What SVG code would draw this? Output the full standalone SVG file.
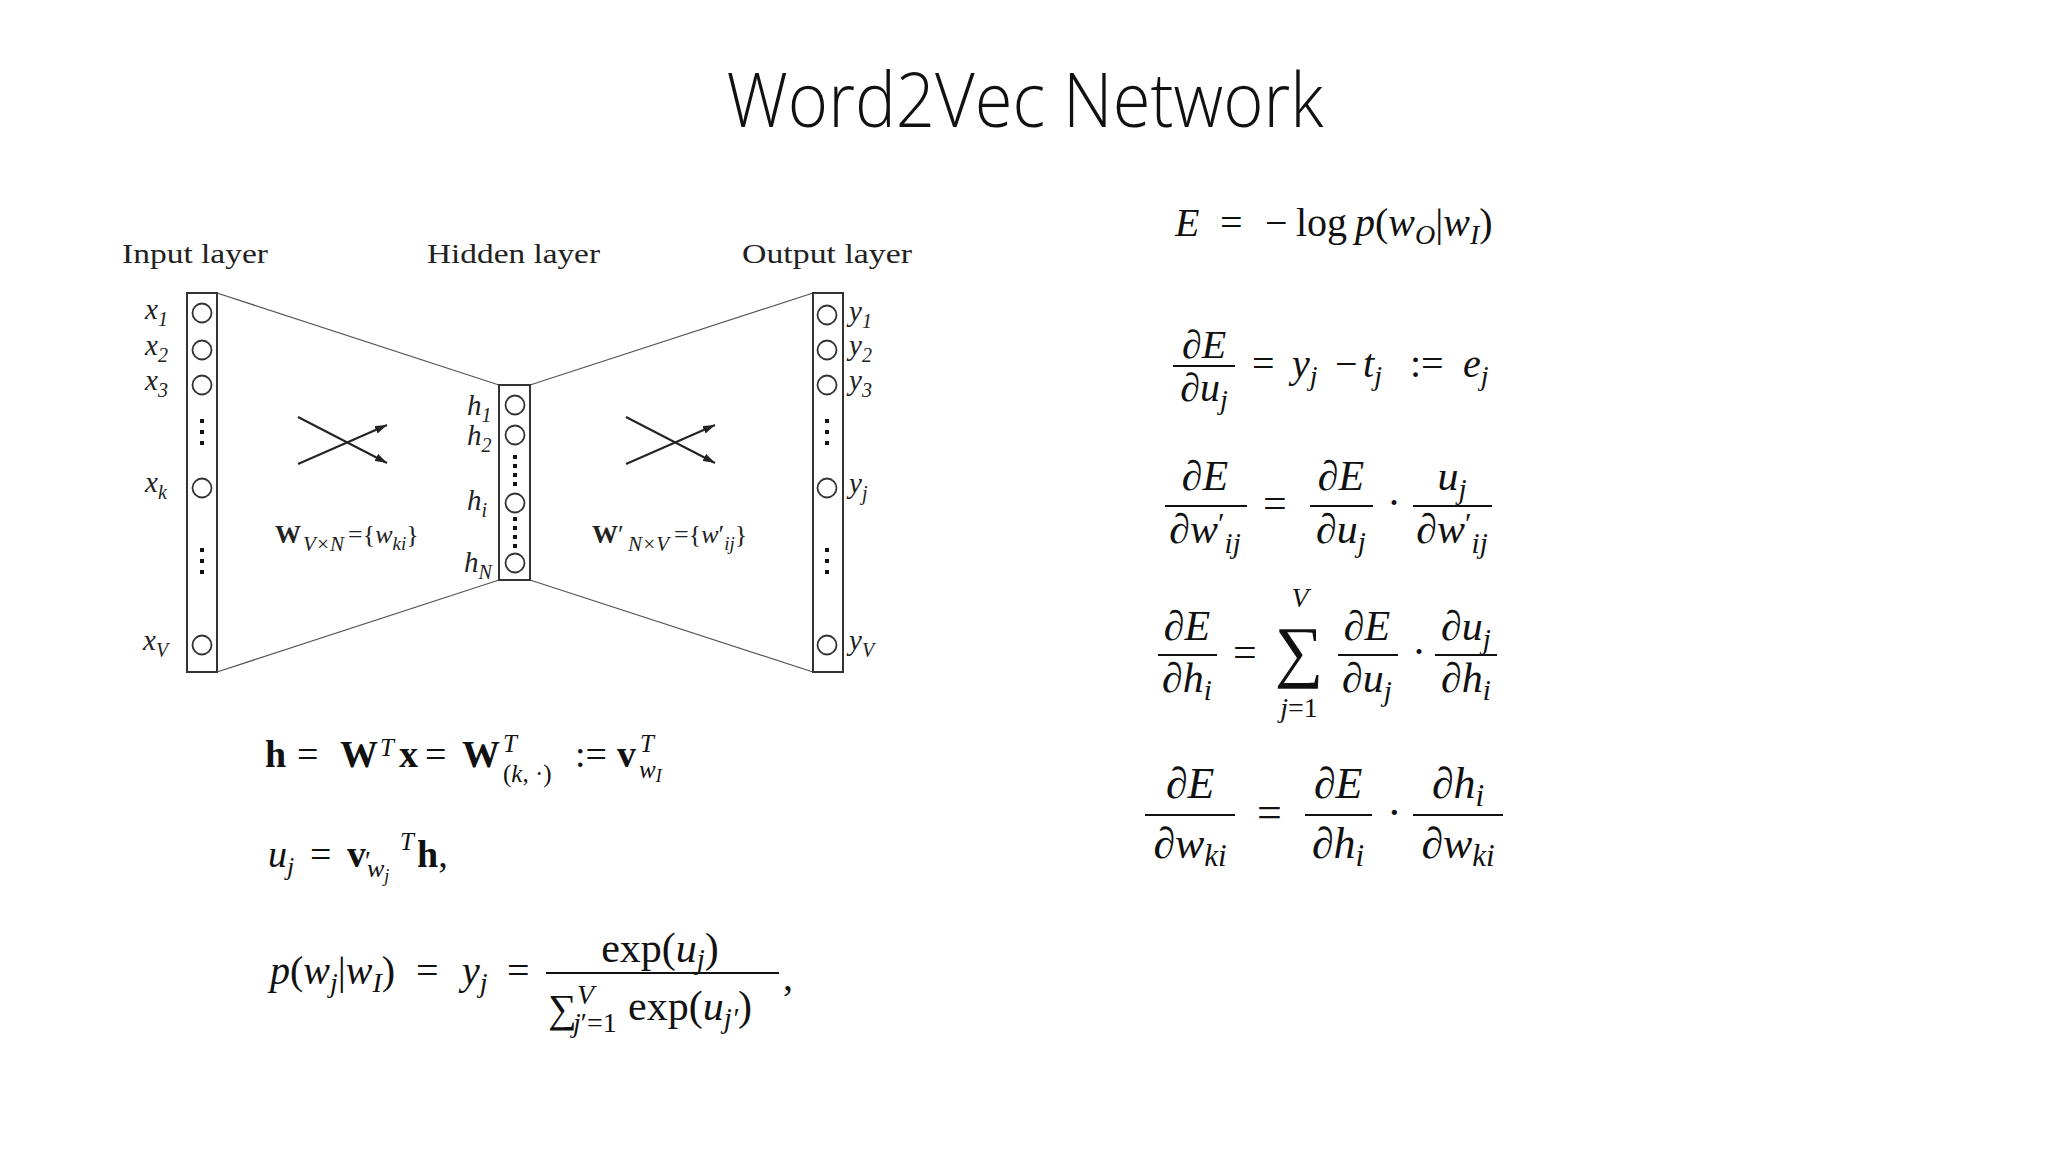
<svg xmlns="http://www.w3.org/2000/svg" width="2048" height="1152" viewBox="0 0 2048 1152">
<defs>
<style>
.t{font-family:"Open Sans","Liberation Sans",sans-serif;font-weight:300;fill:#111}
.s{font-family:"Liberation Serif","Times New Roman",serif;fill:#222}
.e{font-family:"Liberation Serif","Times New Roman",serif;fill:#111}
.i{font-style:italic}
.n{font-style:normal}
.box{fill:#fff;stroke:#333;stroke-width:2}
.node{fill:#fff;stroke:#333;stroke-width:1.8}
.edge{stroke:#555;stroke-width:1.3;fill:none}
.arr{stroke:#222;stroke-width:2;fill:none;marker-end:url(#ah)}
.bar{stroke:#111;stroke-width:1.8}
.dot{fill:#111}
</style>
<marker id="ah" viewBox="0 0 12 8" refX="12" refY="4" markerWidth="12" markerHeight="8" markerUnits="userSpaceOnUse" orient="auto"><path d="M0,0 L12,4 L0,8 z" fill="#222"/></marker>
</defs>
<rect width="2048" height="1152" fill="#fff"/>

<g id="title">
<text class="t" x="1025" y="127" font-size="76" text-anchor="middle" textLength="597" lengthAdjust="spacingAndGlyphs">Word2Vec Network</text>
</g>

<g id="connectors">
<line class="edge" x1="217" y1="293" x2="499" y2="385"/>
<line class="edge" x1="217" y1="672" x2="499" y2="580"/>
<line class="edge" x1="530" y1="385" x2="813" y2="293"/>
<line class="edge" x1="530" y1="580" x2="813" y2="672"/>
<line class="arr" x1="298" y1="417" x2="387" y2="463"/>
<line class="arr" x1="298" y1="464" x2="387" y2="425"/>
<line class="arr" x1="626" y1="417" x2="715" y2="463"/>
<line class="arr" x1="626" y1="464" x2="715" y2="425"/>
</g>

<g id="input-layer">
<text class="s" x="122" y="263" font-size="28" textLength="146" lengthAdjust="spacingAndGlyphs">Input layer</text>
<rect class="box" x="187" y="293" width="30" height="379"/>
<circle class="node" cx="202" cy="313" r="9.5"/>
<circle class="node" cx="202" cy="350" r="9.5"/>
<circle class="node" cx="202" cy="385" r="9.5"/>
<circle class="node" cx="202" cy="488" r="9.5"/>
<circle class="node" cx="202" cy="645" r="9.5"/>
<rect class="dot" x="200" y="419" width="4" height="4"/>
<rect class="dot" x="200" y="430" width="4" height="4"/>
<rect class="dot" x="200" y="441" width="4" height="4"/>
<rect class="dot" x="200" y="548" width="4" height="4"/>
<rect class="dot" x="200" y="559" width="4" height="4"/>
<rect class="dot" x="200" y="570" width="4" height="4"/>
<text class="s i" x="145" y="319" font-size="29">x<tspan font-size="20" dy="7">1</tspan></text>
<text class="s i" x="145" y="355" font-size="29">x<tspan font-size="20" dy="7">2</tspan></text>
<text class="s i" x="145" y="390" font-size="29">x<tspan font-size="20" dy="7">3</tspan></text>
<text class="s i" x="145" y="492" font-size="29">x<tspan font-size="20" dy="7">k</tspan></text>
<text class="s i" x="143" y="650" font-size="29">x<tspan font-size="20" dy="7">V</tspan></text>
<text class="s" font-size="26" y="543"><tspan x="275" font-weight="bold">W</tspan><tspan x="303" y="551" font-size="21" class="i">V×N</tspan><tspan x="348" y="543">={</tspan><tspan class="i">w</tspan><tspan font-size="19" dy="7" class="i">ki</tspan><tspan dy="-7">}</tspan></text>
</g>

<g id="hidden-layer">
<text class="s" x="427" y="263" font-size="28" textLength="173" lengthAdjust="spacingAndGlyphs">Hidden layer</text>
<rect class="box" x="499" y="385" width="31" height="195"/>
<circle class="node" cx="515" cy="405" r="9.5"/>
<circle class="node" cx="515" cy="435" r="9.5"/>
<circle class="node" cx="515" cy="503" r="9.5"/>
<circle class="node" cx="515" cy="563" r="9.5"/>
<rect class="dot" x="513" y="455" width="4" height="4"/>
<rect class="dot" x="513" y="464" width="4" height="4"/>
<rect class="dot" x="513" y="473" width="4" height="4"/>
<rect class="dot" x="513" y="482" width="4" height="4"/>
<rect class="dot" x="513" y="517" width="4" height="4"/>
<rect class="dot" x="513" y="526" width="4" height="4"/>
<rect class="dot" x="513" y="535" width="4" height="4"/>
<rect class="dot" x="513" y="544" width="4" height="4"/>
<text class="s i" x="467" y="415" font-size="29">h<tspan font-size="20" dy="7">1</tspan></text>
<text class="s i" x="467" y="445" font-size="29">h<tspan font-size="20" dy="7">2</tspan></text>
<text class="s i" x="467" y="510" font-size="29">h<tspan font-size="20" dy="7">i</tspan></text>
<text class="s i" x="464" y="572" font-size="29">h<tspan font-size="20" dy="7">N</tspan></text>
</g>

<g id="output-layer">
<text class="s" x="742" y="263" font-size="28" textLength="170" lengthAdjust="spacingAndGlyphs">Output layer</text>
<rect class="box" x="813" y="293" width="30" height="379"/>
<circle class="node" cx="827" cy="315" r="9.5"/>
<circle class="node" cx="827" cy="350" r="9.5"/>
<circle class="node" cx="827" cy="385" r="9.5"/>
<circle class="node" cx="827" cy="488" r="9.5"/>
<circle class="node" cx="827" cy="645" r="9.5"/>
<rect class="dot" x="825" y="419" width="4" height="4"/>
<rect class="dot" x="825" y="430" width="4" height="4"/>
<rect class="dot" x="825" y="441" width="4" height="4"/>
<rect class="dot" x="825" y="548" width="4" height="4"/>
<rect class="dot" x="825" y="559" width="4" height="4"/>
<rect class="dot" x="825" y="570" width="4" height="4"/>
<text class="s i" x="849" y="321" font-size="29">y<tspan font-size="20" dy="7">1</tspan></text>
<text class="s i" x="849" y="355" font-size="29">y<tspan font-size="20" dy="7">2</tspan></text>
<text class="s i" x="849" y="390" font-size="29">y<tspan font-size="20" dy="7">3</tspan></text>
<text class="s i" x="849" y="493" font-size="29">y<tspan font-size="20" dy="7">j</tspan></text>
<text class="s i" x="849" y="650" font-size="29">y<tspan font-size="20" dy="7">V</tspan></text>
<text class="s" font-size="26" y="543"><tspan x="592" font-weight="bold">W</tspan><tspan>′</tspan><tspan x="628" y="551" font-size="21" class="i">N×V</tspan><tspan x="674" y="543">={</tspan><tspan class="i">w</tspan><tspan>′</tspan><tspan font-size="19" dy="7" class="i">ij</tspan><tspan dy="-7">}</tspan></text>
</g>

<g id="equations-left">
<text class="e" font-size="38">
<tspan x="265" y="767" font-weight="bold">h</tspan>
<tspan x="297" y="767">=</tspan>
<tspan x="340" y="767" font-weight="bold">W</tspan>
<tspan x="380" y="756" font-size="25" class="i">T</tspan>
<tspan x="399" y="767" font-weight="bold">x</tspan>
<tspan x="425" y="767">=</tspan>
<tspan x="462" y="767" font-weight="bold">W</tspan>
<tspan x="503" y="752" font-size="25" class="i">T</tspan>
<tspan x="503" y="782" font-size="25">(<tspan class="i">k</tspan>, ·)</tspan>
<tspan x="575" y="767">:=</tspan>
<tspan x="617" y="767" font-weight="bold">v</tspan>
<tspan x="640" y="752" font-size="25" class="i">T</tspan>
<tspan x="639" y="778" font-size="25" class="i">w</tspan><tspan y="782" font-size="18" class="i">I</tspan>
</text>
<text class="e" font-size="38">
<tspan x="268" y="867" class="i">u</tspan><tspan y="875" font-size="26" class="i">j</tspan>
<tspan x="310" y="867">=</tspan>
<tspan x="347" y="867" font-weight="bold">v</tspan>
<tspan x="365" y="870" font-size="27">′</tspan>
<tspan x="367" y="877" font-size="26" class="i">w</tspan><tspan y="882" font-size="18" class="i">j</tspan>
<tspan x="400" y="850" font-size="25" class="i">T</tspan>
<tspan x="417" y="867" font-weight="bold">h</tspan><tspan>,</tspan>
</text>
<text class="e" font-size="40">
<tspan x="270" y="984" class="i">p</tspan><tspan y="984">(</tspan><tspan class="i">w</tspan><tspan y="992" font-size="28" class="i">j</tspan><tspan y="984">|</tspan><tspan class="i">w</tspan><tspan y="992" font-size="28" class="i">I</tspan><tspan y="984">)</tspan>
<tspan x="416" y="984">=</tspan>
<tspan x="462" y="984" class="i">y</tspan><tspan y="992" font-size="28" class="i">j</tspan>
<tspan x="507" y="984">=</tspan>
<tspan x="783" y="990">,</tspan>
</text>
<line class="bar" x1="546" y1="973" x2="779" y2="973"/>
<text class="e" font-size="42" x="660" y="962" text-anchor="middle">exp(<tspan class="i">u</tspan><tspan font-size="29" class="i" dy="7">j</tspan><tspan dy="-7">)</tspan></text>
<text class="e" font-size="40">
<tspan x="548" y="1022">∑</tspan>
<tspan x="577" y="1004" font-size="28" class="i">V</tspan>
<tspan x="573" y="1032" font-size="28"><tspan class="i">j</tspan>′=1</tspan>
<tspan x="628" y="1020" font-size="42">exp(</tspan><tspan class="i" font-size="42">u</tspan><tspan font-size="29" class="i" y="1028">j′</tspan><tspan y="1020" font-size="42">)</tspan>
</text>
</g>

<g id="equations-right">
<text class="e" font-size="40">
<tspan x="1175" y="236" class="i">E</tspan>
<tspan x="1220" y="236">=</tspan>
<tspan x="1265" y="236">−</tspan>
<tspan x="1296" y="236">log</tspan>
<tspan x="1355" y="236" class="i">p</tspan><tspan y="236">(</tspan><tspan class="i">w</tspan><tspan y="244" font-size="28" class="i">O</tspan><tspan y="236">|</tspan><tspan class="i">w</tspan><tspan y="244" font-size="28" class="i">I</tspan><tspan y="236">)</tspan>
</text>

<text class="e i" font-size="40" x="1204" y="358" text-anchor="middle">∂E</text>
<line class="bar" x1="1173" y1="366" x2="1235" y2="366"/>
<text class="e i" font-size="40" x="1204" y="401" text-anchor="middle">∂u<tspan font-size="28" dy="8">j</tspan></text>
<text class="e" font-size="40">
<tspan x="1252" y="377">=</tspan>
<tspan x="1292" y="377" class="i">y</tspan><tspan y="385" font-size="28" class="i">j</tspan>
<tspan x="1335" y="377">−</tspan>
<tspan x="1363" y="377" class="i">t</tspan><tspan y="385" font-size="28" class="i">j</tspan>
<tspan x="1410" y="377">:=</tspan>
<tspan x="1463" y="377" class="i">e</tspan><tspan y="385" font-size="28" class="i">j</tspan>
</text>

<text class="e i" font-size="42" x="1205" y="490" text-anchor="middle">∂E</text>
<line class="bar" x1="1165" y1="506" x2="1247" y2="506"/>
<text class="e i" font-size="42" x="1205" y="543" text-anchor="middle">∂w<tspan class="n" font-size="30" dy="-10">′</tspan><tspan font-size="29" dy="20">ij</tspan></text>
<text class="e" font-size="42" x="1263" y="517">=</text>
<text class="e i" font-size="42" x="1341" y="490" text-anchor="middle">∂E</text>
<line class="bar" x1="1310" y1="506" x2="1373" y2="506"/>
<text class="e i" font-size="42" x="1341" y="543" text-anchor="middle">∂u<tspan font-size="29" dy="9">j</tspan></text>
<text class="e" font-size="42" x="1387" y="517">·</text>
<text class="e i" font-size="42" x="1452" y="490" text-anchor="middle">u<tspan font-size="29" dy="9">j</tspan></text>
<line class="bar" x1="1413" y1="506" x2="1492" y2="506"/>
<text class="e i" font-size="42" x="1452" y="543" text-anchor="middle">∂w<tspan class="n" font-size="30" dy="-10">′</tspan><tspan font-size="29" dy="20">ij</tspan></text>

<text class="e i" font-size="42" x="1187" y="640" text-anchor="middle">∂E</text>
<line class="bar" x1="1158" y1="655" x2="1217" y2="655"/>
<text class="e i" font-size="42" x="1187" y="692" text-anchor="middle">∂h<tspan font-size="29" dy="8">i</tspan></text>
<text class="e" font-size="42" x="1233" y="666">=</text>
<text class="e" font-size="68" x="1299" y="674" text-anchor="middle">∑</text>
<text class="e i" font-size="28" x="1300" y="607" text-anchor="middle">V</text>
<text class="e" font-size="28" x="1299" y="717" text-anchor="middle"><tspan class="i">j</tspan>=1</text>
<text class="e i" font-size="42" x="1367" y="640" text-anchor="middle">∂E</text>
<line class="bar" x1="1338" y1="655" x2="1398" y2="655"/>
<text class="e i" font-size="42" x="1367" y="692" text-anchor="middle">∂u<tspan font-size="29" dy="9">j</tspan></text>
<text class="e" font-size="42" x="1412" y="666">·</text>
<text class="e i" font-size="42" x="1466" y="640" text-anchor="middle">∂u<tspan font-size="29" dy="9">j</tspan></text>
<line class="bar" x1="1435" y1="655" x2="1497" y2="655"/>
<text class="e i" font-size="42" x="1466" y="692" text-anchor="middle">∂h<tspan font-size="29" dy="8">i</tspan></text>

<text class="e i" font-size="44" x="1190" y="798" text-anchor="middle">∂E</text>
<line class="bar" x1="1145" y1="815" x2="1235" y2="815"/>
<text class="e i" font-size="44" x="1190" y="858" text-anchor="middle">∂w<tspan font-size="31" dy="8">ki</tspan></text>
<text class="e" font-size="44" x="1257" y="827">=</text>
<text class="e i" font-size="44" x="1338" y="798" text-anchor="middle">∂E</text>
<line class="bar" x1="1305" y1="815" x2="1372" y2="815"/>
<text class="e i" font-size="44" x="1338" y="858" text-anchor="middle">∂h<tspan font-size="31" dy="8">i</tspan></text>
<text class="e" font-size="44" x="1387" y="827">·</text>
<text class="e i" font-size="44" x="1458" y="798" text-anchor="middle">∂h<tspan font-size="31" dy="8">i</tspan></text>
<line class="bar" x1="1413" y1="815" x2="1503" y2="815"/>
<text class="e i" font-size="44" x="1458" y="858" text-anchor="middle">∂w<tspan font-size="31" dy="8">ki</tspan></text>
</g>
</svg>
